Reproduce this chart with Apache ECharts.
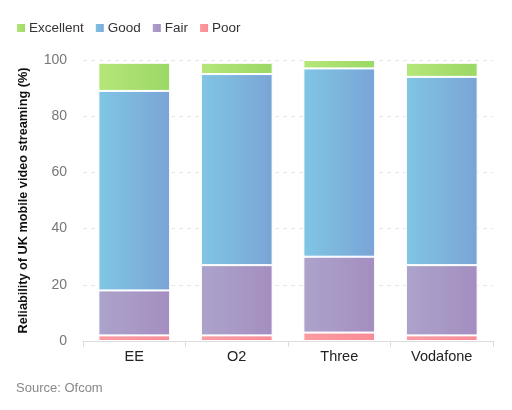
<!DOCTYPE html>
<html><head><meta charset="utf-8">
<script src="https://cdn.jsdelivr.net/npm/echarts@6/dist/echarts.min.js"></script>
<style>html,body{margin:0;padding:0;background:#fff}#c{width:512px;height:410px}</style>
</head><body><div id="c"></div>
<script>
var categories = ['EE', 'O2', 'Three', 'Vodafone'];
var poor = [2, 2, 3, 2];
var fair = [16, 25, 27, 25];
var good = [71, 68, 67, 67];
var excellent = [10, 4, 3, 5];
var yTicks = [0, 20, 40, 60, 80, 100];

function grad(a, b) {
  return new echarts.graphic.LinearGradient(0, 0, 1, 0, [{offset: 0, color: a}, {offset: 1, color: b}]);
}
var chart = echarts.init(document.getElementById('c'));
var font = 'Helvetica, Arial, "Liberation Sans", sans-serif';
function ser(name, data, c1, c2) {
  return {name: name, type: 'bar', stack: 's', data: data, barWidth: '70%',
    itemStyle: {color: grad(c1, c2), borderColor: '#fff', borderWidth: 1}};
}
chart.setOption({
  animation: false,
  textStyle: {fontFamily: font},
  legend: {
    data: ['Excellent', 'Good', 'Fair', 'Poor'],
    left: 10, top: 16, itemWidth: 10, itemHeight: 10, itemGap: 10,
    icon: 'rect',
    textStyle: {fontSize: 13.5, color: '#333', fontFamily: font, padding: [0, 0, 0, -2]}
  },
  grid: {left: 83, right: 19, top: 60, bottom: 69},
  xAxis: {
    type: 'category', data: categories,
    axisLine: {lineStyle: {color: '#ddd'}},
    axisTick: {show: true, lineStyle: {color: '#ddd'}, length: 6},
    axisLabel: {color: '#222', fontSize: 14.5, margin: 8, fontFamily: font}
  },
  yAxis: {
    type: 'value', min: 0, max: 100, interval: 20,
    name: 'Reliability of UK mobile video streaming (%)',
    nameLocation: 'middle', nameGap: 53,
    nameTextStyle: {fontSize: 12.7, fontWeight: 'bold', color: '#111', fontFamily: font},
    axisLine: {show: false}, axisTick: {show: false},
    axisLabel: {color: '#777', fontSize: 14, margin: 16, fontFamily: font,
      formatter: function (v) { return yTicks.indexOf(v) >= 0 ? String(v) : ''; }},
    splitLine: {lineStyle: {color: '#e6e6e6', type: [4, 4]}}
  },
  graphic: [{type: 'text', left: 16, top: 382,
    style: {text: 'Source: Ofcom', fill: '#888', fontSize: 13, fontFamily: font}}],
  series: [
    ser('Poor', poor, '#fc9ba3', '#f98c95'),
    ser('Fair', fair, '#aca3cb', '#a48ec0'),
    ser('Good', good, '#80c6e4', '#7aa4d6'),
    ser('Excellent', excellent, '#b6e679', '#9bd866')
  ]
});
</script></body></html>
